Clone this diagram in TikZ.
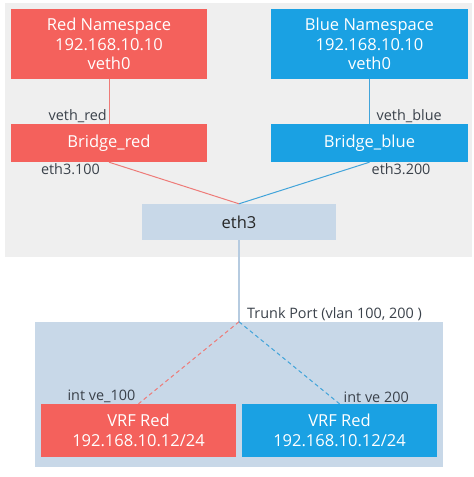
\documentclass[tikz,border=0pt]{standalone}
\usepackage{fontspec}
\setmainfont{Open Sans}
\usepackage{tikz}
\usetikzlibrary{positioning}
\definecolor{nsred}{HTML}{F4615C}
\definecolor{nsblue}{HTML}{1AA1E3}
\definecolor{linkred}{HTML}{EE7B78}
\definecolor{linkblue}{HTML}{41A4DA}
\definecolor{panelgray}{HTML}{EFEFEF}
\definecolor{panelblue}{HTML}{C8D8E8}
\definecolor{trunkline}{HTML}{B6CBE0}
\definecolor{lblgray}{HTML}{3A414A}

\begin{document}
\begin{tikzpicture}[x=1pt,y=-1pt,box/.style n args={3}{fill=#1,minimum width=#2pt,minimum height=#3pt,inner sep=0pt,text=white,align=center,font=\fontsize{16.5}{19.5}\selectfont},lbl/.style={text=lblgray,inner sep=1pt,font=\fontsize{14.4}{17}\selectfont},panel/.style n args={3}{fill=#1,minimum width=#2pt,minimum height=#3pt,inner sep=0pt}]
\useasboundingbox (0,0) rectangle (474,477);
% two panels behind everything
\node[panel={panelgray}{467}{254}] (hostpanel) at (238.5,130) {};
\node[panel={panelblue}{408}{145}] (swpanel) at (239,394.5) {};
\coordinate (trunk) at (swpanel.north);
% host side
\node[box={nsred}{196}{70}] (nsred) at (109,44) {Red Namespace\\192.168.10.10\\veth0};
\node[box={nsblue}{197}{70}] (nsblue) at (369.5,44) {Blue Namespace\\192.168.10.10\\veth0};
\node[box={nsred}{196}{38}] (brred) at (109,143) {Bridge\_red};
\node[box={nsblue}{197}{38}] (brblue) at (369.5,143) {Bridge\_blue};
\node[box={panelblue}{194}{36},text=black!85] (eth) at (239,222) {eth3};
\draw[linkred,line width=1pt] (nsred) -- (brred);
\draw[linkblue,line width=1pt] (nsblue) -- (brblue);
\draw[linkred,line width=1pt] (brred.south) -- (eth.north);
\draw[linkblue,line width=1pt] (brblue.south) -- (eth.north);
\node[lbl,above left=0pt and 1pt of brred.north] (vethred) {veth\_red};
\node[lbl,above right=0pt and 6pt of brblue.north] (vethblue) {veth\_blue};
\node[lbl,below left=0pt and 8pt of brred.south] (vlanred) {eth3.100};
\node[lbl,below right=0pt and 1pt of brblue.south] (vlanblue) {eth3.200};
% switch side
\draw[trunkline,line width=2pt] (eth.south) -- (trunk);
\node[lbl,above right=0pt and 7pt of trunk] (trunklbl) {Trunk Port (vlan 100, 200 )};
\node[box={nsred}{195}{53}] (vrfred) at (138.5,430.5) {VRF Red\\192.168.10.12/24};
\node[box={nsblue}{195}{53}] (vrfblue) at (339.5,430.5) {VRF Red\\192.168.10.12/24};
\draw[linkred,line width=1pt,dash pattern=on 4pt off 3pt] (trunk) -- (vrfred.north);
\draw[linkblue,line width=1pt,dash pattern=on 4pt off 3pt] (trunk) -- (vrfblue.north);
\node[lbl,above left=0pt and 2pt of vrfred.north] (vered) {int ve\_100};
\node[lbl,above right=0pt and 3pt of vrfblue.north] (veblue) {int ve 200};
\end{tikzpicture}
\end{document}
